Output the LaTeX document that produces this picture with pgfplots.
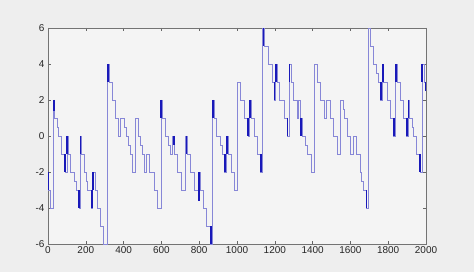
\documentclass[border=0pt]{standalone}
\usepackage{pgfplots}
\pgfplotsset{compat=1.18}
\usepackage{fontspec}
\setmainfont{Liberation Sans}
\definecolor{figbg}{RGB}{238,238,238}
\definecolor{axbg}{RGB}{244,244,244}
\definecolor{sig}{RGB}{135,135,215}
\definecolor{chat}{RGB}{25,25,185}
\begin{document}
\begin{tikzpicture}[x=1bp,y=1bp]
\fill[figbg] (0,0) rectangle (474,272);
\begin{axis}[at={(48bp,28bp)}, anchor=south west, scale only axis,
  width=378bp, height=216bp,
  xmin=0, xmax=2000, ymin=-6, ymax=6,
  axis background/.style={fill=axbg},
  axis line style={draw=black!55, line width=0.5pt},
  xtick={0,200,400,600,800,1000,1200,1400,1600,1800,2000},
  xticklabels={0,200,400,600,800,1000,1200,1400,1600,1800,2000},
  ytick={-6,-4,-2,0,2,4,6},
  yticklabels={-6,-4,-2,0,2,4,6},
  tick align=inside, major tick length=3bp,
  tick style={black!60, line width=0.4pt},
  xticklabel style={font=\fontsize{10}{12}\selectfont, text=black!85, yshift=1bp},
  yticklabel style={font=\fontsize{10}{12}\selectfont, text=black!85},
  clip=true,
]
\addplot[const plot, color=sig, line width=0.6pt] coordinates {
(0,-3) (12,-4) (30,2) (35,1) (50,0.5) (57,0) (72,-1) (90,-2) (100,0) (105,-1)
(120,-2) (138,-2.5) (148,-3) (163,-4) (170,0) (175,-1) (190,-2) (200,-2.5) (210,-3)
(228,-4) (236,-2) (248,-3) (260,-4) (275,-5) (292,-6) (315,4) (322,3) (340,2)
(356,1) (372,0) (385,1) (402,0.5) (412,0) (424,-0.5) (433,-1) (444,-2) (462,1)
(480,0) (490,-0.5) (500,-1) (508,-2) (522,-1) (538,-2) (565,-3) (577,-4) (598,2)
(603,1) (618,0) (635,-0.5) (645,-1) (660,0) (668,-1) (685,-2) (703,-3) (728,0)
(738,-1) (755,-2) (775,-3) (795,-2) (805,-3) (820,-4) (840,-5) (858,-6) (870,2)
(878,1) (893,0) (910,-0.5) (920,-1) (935,-2) (945,0) (952,-1) (968,-2) (985,-3)
(1002,3) (1018,2) (1040,1) (1058,0) (1066,2) (1073,1) (1090,0) (1108,-1) (1125,-2)
(1136,6) (1145,5) (1163,4) (1185,3) (1196,2) (1205,4) (1212,3) (1222,2) (1250,1)
(1265,0) (1275,4) (1285,3) (1300,2) (1318,1) (1325,2) (1335,1) (1345,0) (1360,-0.5)
(1372,-1) (1395,-2) (1408,4) (1425,3) (1442,2) (1460,1) (1475,2) (1495,1) (1510,0)
(1528,-1) (1548,2) (1560,1.5) (1570,1) (1585,0) (1600,-1) (1616,0) (1632,-1)
(1650,-2) (1660,-2.5) (1670,-3) (1683,-4) (1692,6) (1705,5) (1720,4) (1738,3.5)
(1748,3) (1758,2) (1768,4) (1775,3) (1795,2) (1810,1) (1828,0) (1840,4) (1848,3)
(1862,2) (1880,1) (1895,0) (1905,2) (1912,1) (1925,0.5) (1935,0) (1950,-1)
(1968,-2) (1978,4) (1990,3) (2000,2.5)
};
\addplot[chat, line width=1.8pt] coordinates {(2,-2) (2,-3)};
\addplot[chat, line width=1.8pt] coordinates {(32,2) (32,1.4)};
\addplot[chat, line width=1.8pt] coordinates {(92,-1) (92,-2)};
\addplot[chat, line width=1.8pt] coordinates {(101,0) (101,-1)};
\addplot[chat, line width=1.8pt] coordinates {(166,-3) (166,-4)};
\addplot[chat, line width=1.8pt] coordinates {(172,0) (172,-1)};
\addplot[chat, line width=1.8pt] coordinates {(231,-3) (231,-4)};
\addplot[chat, line width=1.8pt] coordinates {(240,-2) (240,-3)};
\addplot[chat, line width=1.8pt] coordinates {(318,4) (318,3)};
\addplot[chat, line width=1.8pt] coordinates {(598,2) (598,1)};
\addplot[chat, line width=1.8pt] coordinates {(665,0) (665,-0.5)};
\addplot[chat, line width=1.8pt] coordinates {(733,0) (733,-1)};
\addplot[chat, line width=1.8pt] coordinates {(800,-2) (800,-3.6)};
\addplot[chat, line width=1.8pt] coordinates {(862,-5) (862,-6)};
\addplot[chat, line width=1.8pt] coordinates {(872,2) (872,1)};
\addplot[chat, line width=1.8pt] coordinates {(936,-1) (936,-2)};
\addplot[chat, line width=1.8pt] coordinates {(949,0) (949,-1)};
\addplot[chat, line width=1.8pt] coordinates {(1060,1) (1060,0)};
\addplot[chat, line width=1.8pt] coordinates {(1069,2) (1069,1)};
\addplot[chat, line width=1.8pt] coordinates {(1128,-1) (1128,-2)};
\addplot[chat, line width=1.8pt] coordinates {(1140,6) (1140,5)};
\addplot[chat, line width=1.8pt] coordinates {(1198,3) (1198,2)};
\addplot[chat, line width=1.8pt] coordinates {(1207,4) (1207,3)};
\addplot[chat, line width=1.8pt] coordinates {(1267,1) (1267,0)};
\addplot[chat, line width=1.8pt] coordinates {(1278,4) (1278,3)};
\addplot[chat, line width=1.8pt] coordinates {(1338,1) (1338,0)};
\addplot[chat, line width=1.8pt] coordinates {(1685,-3) (1685,-4)};
\addplot[chat, line width=1.8pt] coordinates {(1761,3) (1761,2)};
\addplot[chat, line width=1.8pt] coordinates {(1771,4) (1771,3)};
\addplot[chat, line width=1.8pt] coordinates {(1831,1) (1831,0)};
\addplot[chat, line width=1.8pt] coordinates {(1842,4) (1842,3)};
\addplot[chat, line width=1.8pt] coordinates {(1899,1) (1899,0)};
\addplot[chat, line width=1.8pt] coordinates {(1907,2) (1907,1)};
\addplot[chat, line width=1.8pt] coordinates {(1968,-1) (1968,-2)};
\addplot[chat, line width=1.8pt] coordinates {(1980,4) (1980,3)};
\addplot[chat, line width=1.8pt] coordinates {(1997,3) (1997,2.5)};
\end{axis}
\end{tikzpicture}
\end{document}
